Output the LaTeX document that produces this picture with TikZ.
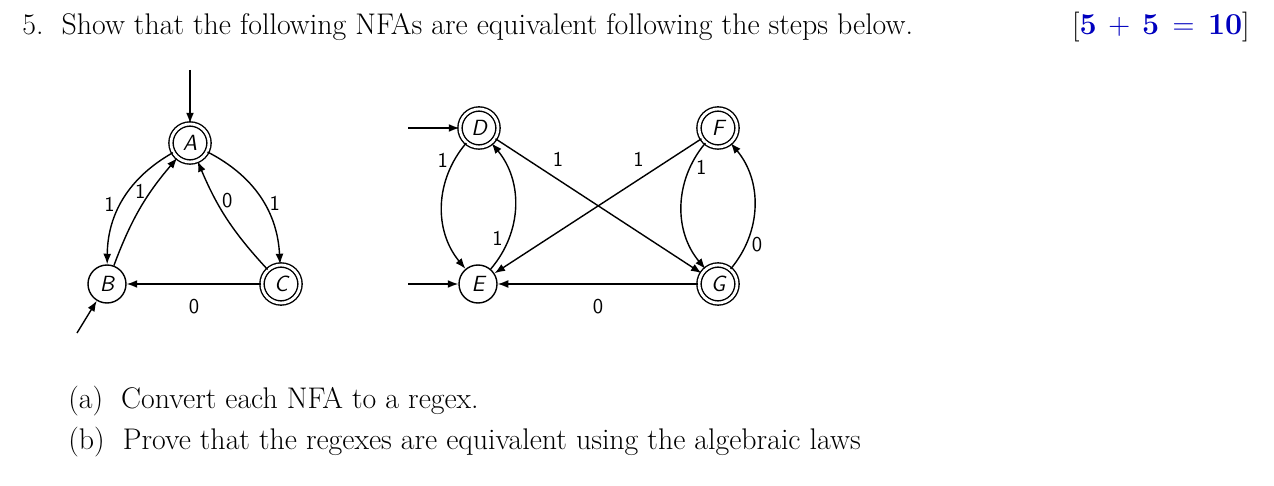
\documentclass[tikz,border=0pt]{standalone}
\usetikzlibrary{arrows.meta}
\begin{document}
\begin{tikzpicture}[x=0.02cm,y=-0.02cm,
  st/.style={circle,draw,thick,minimum size=38*0.02cm,inner sep=0pt,font=\sffamily\itshape\fontsize{12.5}{14}\selectfont},
  acc/.style={st,double,double distance=1.6pt},
  ed/.style={draw,thick,-{Latex[length=6pt,width=4.5pt]}},
  lb/.style={font=\sffamily\fontsize{12}{14}\selectfont,inner sep=3pt},
  tx/.style={anchor=base west,inner sep=0pt,font=\fontsize{17}{20}\selectfont}]
\useasboundingbox (0,0) rectangle (1274,486);
\node[tx] (t) at (22,35) {5.\ \ Show that the following NFAs are equivalent following the steps below.};
\node[tx,anchor=base east] (m) at (1250,35) {[\textcolor{blue!75!black}{$\mathbf{5\,+\,5\,=\,10}$}]};
\node[tx] (pa) at (68,408) {(a)\ \ Convert each NFA to a regex.};
\node[tx] (pb) at (68,449) {(b)\ \ Prove that the regexes are equivalent using the algebraic laws};
\node[acc] (A) at (190,143) {A};
\node[st] (B) at (107,284) {B};
\node[acc] (C) at (281,284) {C};
\node[acc] (D) at (479,128) {D};
\node[st] (E) at (478,284) {E};
\node[acc] (F) at (718,128) {F};
\node[acc] (G) at (718,284) {G};
\coordinate (sA) at (190,70);
\coordinate (sB) at (77,333);
\coordinate (sD) at (408,128);
\coordinate (sE) at (408,284);
\path[ed] (sA) -- (A);
\path[ed] (sB) -- (B);
\path[ed] (sD) -- (D);
\path[ed] (sE) -- (E);
\path[ed] (A) to[bend right=30] node[lb,left,pos=0.55] {1} (B);
\path[ed] (B) to[bend left=10] node[lb,left,pos=0.68] {1} (A);
\path[ed] (C) to[bend left=10] node[lb,right,pos=0.68] {0} (A);
\path[ed] (A) to[bend left=30] node[lb,right,pos=0.55] {1} (C);
\path[ed] (C) -- node[lb,below=5pt] {0} (B);
\path[ed] (D) to[bend right=40] node[lb,left,pos=0.15] {1} (E);
\path[ed] (E) to[bend right=40] node[lb,left,pos=0.25] {1} (D);
\path[ed] (D) -- node[lb,above right,pos=0.25] {1} (G);
\path[ed] (F) -- node[lb,above left,pos=0.25] {1} (E);
\path[ed] (F) to[bend right=40] node[lb,right,pos=0.2] {1} (G);
\path[ed] (G) to[bend right=40] node[lb,right,pos=0.2] {0} (F);
\path[ed] (G) -- node[lb,below=5pt] {0} (E);
\end{tikzpicture}
\end{document}
